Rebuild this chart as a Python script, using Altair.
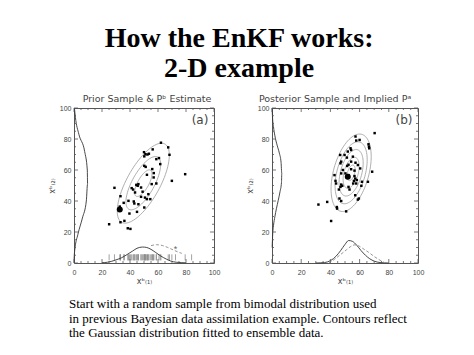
import math
import altair as alt
import pandas as pd

HEADING = ["How the EnKF works:", "2-D example"]
CAPTION = ["Start with a random sample from bimodal distribution used",
           "in previous Bayesian data assimilation example.  Contours reflect",
           "the Gaussian distribution fitted to ensemble data."]
TITLE_A = "Prior Sample & Pᵇ Estimate"
TITLE_B = "Posterior Sample and Implied Pᵃ"
TAG_A = "(a)"
TAG_B = "(b)"
X_TITLE = "xᵇ₍₁₎"
Y_TITLE = "xᵇ₍₂₎"
TICKS_MAJOR = [0, 20, 40, 60, 80, 100]
TICKS_MINOR = [5, 10, 15, 25, 30, 35, 45, 50, 55, 65, 70, 75, 85, 90, 95]

# ---- panel (a): prior sample ----
A_X = [62.1, 67.3, 68.2, 56.2, 50.0, 51.0, 52.5, 50.2, 53.5, 60.7, 58.8, 61.6, 50.2, 51.2,
       55.9, 79.4, 52.1, 56.9, 69.9, 55.5, 46.0, 44.5, 45.5, 58.8, 28.9, 41.2, 42.2, 47.9,
       43.6, 33.2, 53.1, 50.7, 52.1, 47.9, 38.9, 42.7, 43.1, 35.5, 46.0, 54.5, 32.7, 50.2,
       45.0, 39.6, 33.2, 36.0, 25.1, 38.4, 40.3, 57.0, 49.0]
A_Y = [77.6, 74.6, 69.8, 73.3, 71.5, 70.2, 70.0, 68.8, 70.5, 67.7, 67.0, 63.8, 62.7, 62.0,
       60.6, 57.3, 56.9, 55.2, 53.0, 50.9, 50.9, 50.4, 49.8, 51.3, 48.5, 48.3, 47.4, 48.7,
       45.5, 43.1, 44.4, 42.2, 41.2, 42.7, 40.1, 39.7, 38.4, 38.8, 37.9, 41.2, 36.4, 35.8,
       33.0, 31.9, 26.3, 27.2, 25.0, 22.4, 22.0, 58.0, 46.0]
A_BIG_X = [32.7]
A_BIG_Y = [34.5]
A_RUG_X = A_X + [72.5, 84.0]
A_LEFT_X = [0.1, 0.3, 1.0, 3.5, 7.6, 9.5, 9.7, 8.8, 6.0, 2.8, 0.5, 0.1]
A_LEFT_Y = [0, 100, 94, 83, 72, 60, 51, 40, 29, 18.5, 8, 3]
A_BOT_X = [20, 24, 30, 34, 38, 42, 45, 49, 52, 55, 58, 62, 66, 69, 73, 80]
A_BOT_Y = [0.2, 0.5, 2.0, 3.4, 5.5, 7.8, 9.5, 10.3, 10.0, 8.8, 7.0, 4.5, 2.5, 1.3, 0.5, 0.1]
A_DASH_X = [55, 59, 63, 67, 71, 74, 77]
A_DASH_Y = [11.2, 11.8, 11.3, 10.0, 8.4, 7.2, 6.2]
A_STAR_X = [72.5]
A_STAR_Y = [9.0]
A_ELL = dict(mx=49.5, my=51.5, sx=6.2, sy=8.6, rho=0.7, levels=[1, 2, 3])

# ---- panel (b): posterior sample ----
B_X = [70.3, 57.2, 60.0, 57.7, 66.1, 66.4, 66.6, 53.8, 54.2, 51.9, 49.7, 46.7, 51.3, 55.4,
       47.4, 54.2, 57.2, 46.9, 51.5, 52.4, 58.8, 60.4, 48.5, 54.2, 56.5, 68.6, 47.4, 50.3,
       42.8, 52.4, 56.5, 57.0, 58.1, 56.1, 43.5, 43.9, 61.6, 55.6, 57.7, 47.4, 48.1, 46.9,
       52.4, 61.2, 65.7, 45.8, 53.1, 57.0, 59.5, 58.8, 46.2, 47.4, 37.8, 44.4, 44.6, 31.8,
       50.8, 40.5]
B_Y = [83.8, 81.6, 79.4, 79.0, 76.6, 75.1, 74.0, 74.0, 72.9, 71.9, 69.7, 69.7, 68.0, 68.6,
       65.4, 65.4, 64.7, 64.3, 62.6, 63.4, 63.2, 61.0, 60.0, 60.5, 59.6, 58.9, 57.8, 57.8,
       56.7, 56.7, 56.1, 54.5, 53.5, 53.0, 53.0, 51.3, 52.4, 51.3, 51.3, 50.6, 49.8, 49.1,
       49.1, 49.8, 52.4, 47.4, 47.4, 43.7, 41.6, 40.9, 41.6, 40.0, 39.4, 36.1, 35.1, 37.7,
       33.3, 27.1]
B_BIG_X = [51.9]
B_BIG_Y = [55.6]
B_LEFT_X = [0.1, 0.3, 1.0, 2.0, 3.5, 5.0, 6.2, 6.7, 6.5, 5.5, 4.3, 3.0, 2.0, 1.0, 0.5, 0.1]
B_LEFT_Y = [100, 95, 88, 82, 76, 71, 65, 58, 52, 46, 40.5, 35, 30, 24, 19, 10]
B_BOT_X = [30, 36, 40, 44, 47, 50, 52.5, 55, 58, 61, 64, 67, 70, 74, 80]
B_BOT_Y = [0, 0.3, 1.5, 4.5, 8.0, 12.0, 14.5, 14.0, 11.5, 8.0, 5.0, 2.7, 1.2, 0.3, 0]
B_DASH_X = [39, 43, 47, 51, 54, 56.5, 59, 62, 66, 70, 74, 77]
B_DASH_Y = [0, 2.5, 5.5, 8.5, 10.7, 11.7, 11.2, 9.5, 7.0, 4.2, 1.8, 0.3]
B_ELL = dict(mx=54.2, my=58.2, sx=2.75, sy=5.0, rho=0.42, levels=[1, 2, 3, 4, 5])

INK = "#444444"
FRAME = "#555555"


def ellipse_frame(p):
    rows = []
    r2 = math.sqrt(1 - p["rho"] ** 2)
    for k in p["levels"]:
        for t in range(0, 361, 4):
            a = math.radians(t)
            rows.append({"x": p["mx"] + k * p["sx"] * math.cos(a),
                         "y": p["my"] + k * p["sy"] * (p["rho"] * math.cos(a) + r2 * math.sin(a)),
                         "k": k, "t": t})
    return pd.DataFrame(rows)


def panel(W, H, px, py, bx, by, lx, ly, botx, boty, dx, dy, ell, title, title_x, tag, tag_x,
          rug=None, star=None):
    xs = alt.Scale(domain=[0, 100], nice=False, zero=False)
    ys = alt.Scale(domain=[0, 100], nice=False, zero=False)
    common = dict(values=TICKS_MAJOR, ticks=False, domain=False, grid=False, labelOverlap=False,
                  labelFlush=False, labelFontSize=7, labelFont="Liberation Sans", labelColor=INK,
                  titleFont="DejaVu Sans", titleFontSize=8, titleFontWeight="normal", titleColor=INK)
    xax = alt.Axis(title=X_TITLE, labelPadding=5, titlePadding=2, **common)
    yax = alt.Axis(title=Y_TITLE, labelPadding=3, titlePadding=3, **common)

    def X(f):
        return alt.X(f, type="quantitative", scale=xs, axis=xax)

    def Y(f):
        return alt.Y(f, type="quantitative", scale=ys, axis=yax)

    layers = []
    layers.append(alt.Chart(ellipse_frame(ell)).mark_line(color="#9a9a9a", strokeWidth=0.8)
                  .encode(x=X("x"), y=Y("y"), detail="k:N", order="t:Q"))
    if rug is not None:
        layers.append(alt.Chart(pd.DataFrame({"x": rug})).mark_rule(color="#8a8a8a", strokeWidth=0.8)
                      .encode(x=X("x"),
                              y=alt.Y(datum=1.7, type="quantitative", scale=ys, axis=yax),
                              y2=alt.datum(5.6)))
    layers.append(alt.Chart(pd.DataFrame({"x": lx, "y": ly})).mark_line(color="#333333", strokeWidth=0.9,
                                                                     interpolate="monotone")
                  .encode(x=X("x"), y=Y("y"), order="y:Q"))
    layers.append(alt.Chart(pd.DataFrame({"x": botx, "y": boty})).mark_line(color="#333333", strokeWidth=0.9,
                                                                         interpolate="monotone")
                  .encode(x=X("x"), y=Y("y"), order="x:Q"))
    layers.append(alt.Chart(pd.DataFrame({"x": dx, "y": dy})).mark_line(color="#8a8a8a", strokeWidth=0.9,
                                                                     strokeDash=[3, 2], interpolate="monotone")
                  .encode(x=X("x"), y=Y("y"), order="x:Q"))
    if star is not None:
        layers.append(alt.Chart(pd.DataFrame({"x": star[0], "y": star[1]}))
                      .mark_text(text="*", fontSize=9, color="#666666", baseline="middle")
                      .encode(x=X("x"), y=Y("y")))
    layers.append(alt.Chart(pd.DataFrame({"x": px, "y": py})).mark_square(size=6, color="black", opacity=1)
                  .encode(x=X("x"), y=Y("y")))
    layers.append(alt.Chart(pd.DataFrame({"x": bx, "y": by})).mark_circle(size=36, color="black", opacity=1)
                  .encode(x=X("x"), y=Y("y")))
    # inward ticks
    maj = pd.DataFrame({"v": TICKS_MAJOR})
    mnr = pd.DataFrame({"v": TICKS_MINOR})
    for df, L in ((maj, 4), (mnr, 2)):
        rk = dict(color=FRAME, strokeWidth=0.8)
        layers.append(alt.Chart(df).mark_rule(**rk).encode(x=X("v"), y=alt.value(H), y2=alt.value(H - L)))
        layers.append(alt.Chart(df).mark_rule(**rk).encode(x=X("v"), y=alt.value(0), y2=alt.value(L)))
        layers.append(alt.Chart(df).mark_rule(**rk).encode(y=Y("v"), x=alt.value(0), x2=alt.value(L)))
        layers.append(alt.Chart(df).mark_rule(**rk).encode(y=Y("v"), x=alt.value(W), x2=alt.value(W - L)))
    # labels
    layers.append(alt.Chart(pd.DataFrame({"a": [0]})).mark_text(text=tag, fontSize=12, font="DejaVu Sans",
                                                              color=INK, align="center", baseline="middle")
                  .encode(x=alt.value(tag_x), y=alt.value(12)))
    layers.append(alt.Chart(pd.DataFrame({"a": [0]})).mark_text(text=title, fontSize=9.5, font="DejaVu Sans",
                                                              color=INK, align="center", baseline="alphabetic")
                  .encode(x=alt.value(title_x), y=alt.value(-6)))
    return alt.layer(*layers).properties(width=W, height=H,
                                         view=alt.ViewBackground(stroke=FRAME, strokeWidth=1))


pa = panel(140, 155, A_X, A_Y, A_BIG_X, A_BIG_Y, A_LEFT_X, A_LEFT_Y, A_BOT_X, A_BOT_Y,
           A_DASH_X, A_DASH_Y, A_ELL, TITLE_A, 73, TAG_A, 126, rug=A_RUG_X, star=(A_STAR_X, A_STAR_Y))
pb = panel(146, 155, B_X, B_Y, B_BIG_X, B_BIG_Y, B_LEFT_X, B_LEFT_Y, B_BOT_X, B_BOT_Y,
           B_DASH_X, B_DASH_Y, B_ELL, TITLE_B, 63, TAG_B, 132)

cap = (alt.Chart(pd.DataFrame({"a": [0]}))
       .mark_text(text=CAPTION, align="left", baseline="alphabetic", font="Liberation Serif",
                  fontSize=13, lineHeight=14.5, color="black")
       .encode(x=alt.value(-5), y=alt.value(10))
       .properties(width=340, height=40, view=alt.ViewBackground(strokeOpacity=0)))

chart = (alt.vconcat(alt.hconcat(pa, pb, spacing=24), cap, spacing=12)
         .properties(title=alt.TitleParams(text=HEADING, font="Liberation Serif", fontSize=28,
                                           fontWeight="bold", color="black", lineHeight=30,
                                           anchor="middle", offset=11, dx=3),
                     padding={"left": 47, "top": 24, "right": 0, "bottom": 0})
         .configure_view(stroke=FRAME))

chart.save("out.html", embed_options={"renderer": "svg", "actions": False})
